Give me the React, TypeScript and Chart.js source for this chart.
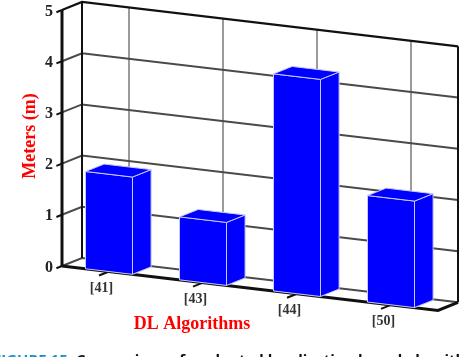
import React, { useEffect, useRef } from 'react';
import { Chart, registerables } from 'chart.js';

Chart.register(...registerables);

const categories = ['[41]', '[43]', '[44]', '[50]'];
const values = [1.9, 1.23, 4.24, 2.08];
const yTicks = [0, 1, 2, 3, 4, 5];
const yTitle = 'Meters (m)';
const xTitle = 'DL Algorithms';

const SERIF = '"Liberation Serif", "Times New Roman", serif';

const threeD = {
  id: 'threeD',
  afterDatasetsDraw(chart: any) {
    const ctx = chart.ctx as CanvasRenderingContext2D;
    const xs = chart.scales.x;
    const ys = chart.scales.y;
    const { left, right } = chart.chartArea;
    const K = 0.118;
    const DX = 20;
    const DY = -8;
    const P = (x: number, y: number, d: number): [number, number] => [x + d * DX, y + K * (x - left) + d * DY];
    const line = (pts: [number, number][], color: string, w: number) => {
      ctx.beginPath();
      ctx.moveTo(pts[0][0], pts[0][1]);
      for (let i = 1; i < pts.length; i++) ctx.lineTo(pts[i][0], pts[i][1]);
      ctx.strokeStyle = color;
      ctx.lineWidth = w;
      ctx.stroke();
    };
    ctx.save();
    ctx.lineJoin = 'miter';
    const yTop = ys.getPixelForValue(yTicks[yTicks.length - 1]);
    const yBot = ys.getPixelForValue(yTicks[0]);

    // vertical grid on back wall
    categories.forEach((_, i) => {
      const cx = xs.getPixelForValue(i);
      line([P(cx, yTop, 1), P(cx, yBot, 1)], '#9a9a9a', 2);
    });
    // horizontal grid (side wall + back wall)
    yTicks.forEach((v, i) => {
      const y = ys.getPixelForValue(v);
      const isTop = i === yTicks.length - 1;
      line([P(left, y, 0), P(left, y, 1), P(right, y, 1)], isTop ? '#111' : '#4a4a4a', isTop ? 2.2 : 2);
    });
    // back wall edges
    line([P(left, yTop, 1), P(left, yBot, 1)], '#111', 2);
    line([P(right, yTop, 1), P(right, yBot, 1)], '#111', 2);
    // floor front & right edges
    line([P(left, yBot, 0), P(right, yBot, 0), P(right, yBot, 1)], '#111', 3);
    // front y axis
    line([P(left, yTop, 0), P(left, yBot, 0)], '#111', 3);
    // y ticks
    yTicks.forEach((v) => {
      const y = ys.getPixelForValue(v);
      line([P(left, y, 0), P(left, y, -0.28)], '#111', 2);
    });
    // x ticks
    categories.forEach((_, i) => {
      const cx = xs.getPixelForValue(i);
      line([P(cx, yBot, 0), P(cx, yBot, -0.5)], '#111', 2);
    });

    // bars
    const meta = chart.getDatasetMeta(0);
    const D = 0.93;
    meta.data.forEach((bar: any) => {
      const { x, y, base, width } = bar.getProps(['x', 'y', 'base', 'width'], true);
      const x0 = x - width / 2;
      const x1 = x + width / 2;
      const faces: [number, number][][] = [
        [P(x0, y, 0), P(x1, y, 0), P(x1, base, 0), P(x0, base, 0)],
        [P(x1, y, 0), P(x1, y, D), P(x1, base, D), P(x1, base, 0)],
        [P(x0, y, 0), P(x1, y, 0), P(x1, y, D), P(x0, y, D)],
      ];
      faces.forEach((f) => {
        ctx.beginPath();
        ctx.moveTo(f[0][0], f[0][1]);
        for (let i = 1; i < f.length; i++) ctx.lineTo(f[i][0], f[i][1]);
        ctx.closePath();
        ctx.fillStyle = '#0000ff';
        ctx.fill();
        ctx.strokeStyle = '#c9c9ff';
        ctx.lineWidth = 1;
        ctx.stroke();
      });
    });

    // y tick labels
    ctx.fillStyle = '#222';
    ctx.font = `bold 16px ${SERIF}`;
    ctx.textAlign = 'right';
    ctx.textBaseline = 'middle';
    yTicks.forEach((v) => {
      const y = ys.getPixelForValue(v);
      ctx.fillText(String(v), 53, y + 1.5);
    });
    // x tick labels
    ctx.font = `bold 14px ${SERIF}`;
    ctx.textAlign = 'center';
    ctx.fillStyle = '#333';
    categories.forEach((c, i) => {
      const cx = xs.getPixelForValue(i);
      const [px, py] = P(cx, yBot, -0.5);
      ctx.fillText(c, px + 2.5, py + 13);
    });
    // titles
    ctx.fillStyle = '#ff0000';
    ctx.font = `bold 18px ${SERIF}`;
    ctx.fillText(xTitle, 192, 324);
    ctx.save();
    ctx.translate(30, 136);
    ctx.rotate(-Math.PI / 2);
    ctx.fillText(yTitle, 0, 0);
    ctx.restore();
    ctx.restore();
  },
};

export default function App() {
  const ref = useRef<HTMLCanvasElement | null>(null);
  useEffect(() => {
    if (!ref.current) return;
    const chart = new Chart(ref.current, {
      type: 'bar',
      data: {
        labels: categories,
        datasets: [
          {
            data: values,
            backgroundColor: 'rgba(0,0,0,0)',
            borderWidth: 0,
            barPercentage: 0.5,
            categoryPercentage: 1,
          },
        ],
      },
      options: {
        responsive: false,
        animation: false,
        events: [],
        layout: { padding: { left: 62, right: 36, top: 10, bottom: 91 } },
        plugins: { legend: { display: false }, tooltip: { enabled: false } },
        scales: {
          x: { display: false },
          y: { display: false, min: 0, max: 5 },
        },
      },
      plugins: [threeD],
    });
    return () => chart.destroy();
  }, []);
  return (
    <div style={{ position: 'fixed', left: 0, top: 0, width: 474, height: 357, overflow: 'hidden', background: '#fff' }}>
      <canvas ref={ref} width={474} height={357} style={{ display: 'block' }} />
      <div
        style={{
          position: 'absolute',
          left: -7,
          top: 352,
          whiteSpace: 'nowrap',
          font: 'bold 15px "Open Sans", "Noto Sans", sans-serif',
          lineHeight: '15px',
          color: '#111',
        }}
      >
        <span style={{ color: '#1a8fd0' }}>FIGURE 15.</span>
        {'  Comparison of evaluated localization based algorithms RMSE'}
      </div>
    </div>
  );
}
